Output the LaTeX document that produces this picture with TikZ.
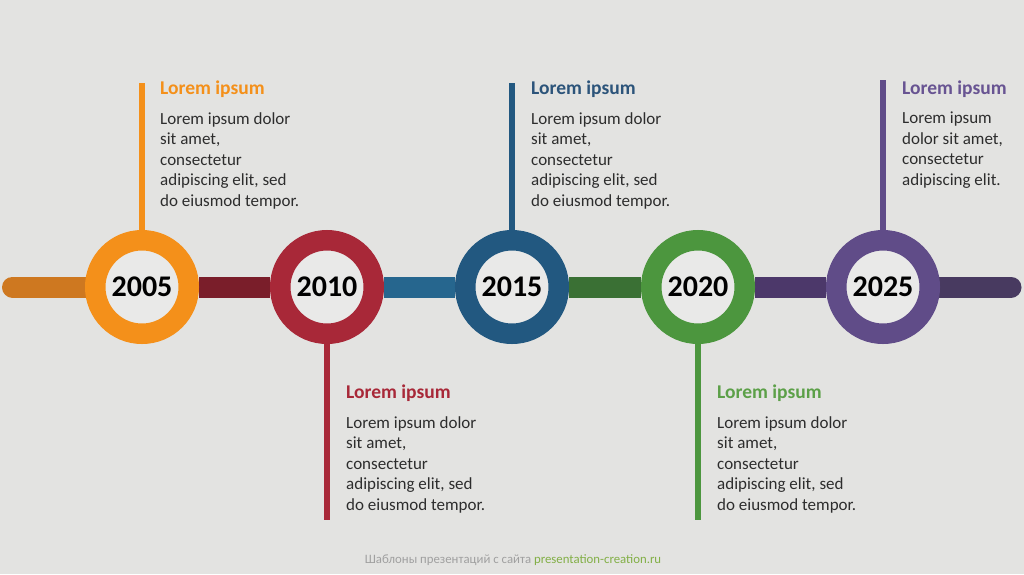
\documentclass[tikz,border=0pt]{standalone}
\usepackage{fontspec}
\setmainfont{Carlito}
\usetikzlibrary{positioning}
\pgfdeclarelayer{bg}
\pgfsetlayers{bg,main}

\definecolor{pagegray}{RGB}{227,227,225}
\definecolor{innergray}{RGB}{233,233,232}
\definecolor{bodygray}{RGB}{45,45,45}
\definecolor{footgray}{RGB}{160,160,160}
\definecolor{linkgreen}{RGB}{130,175,70}
\definecolor{ringorange}{RGB}{244,144,26}
\definecolor{ringred}{RGB}{168,40,56}
\definecolor{ringblue}{RGB}{34,88,128}
\definecolor{ringgreen}{RGB}{76,150,62}
\definecolor{ringpurple}{RGB}{96,76,136}
\definecolor{barorange}{RGB}{206,120,32}
\definecolor{barred}{RGB}{122,30,42}
\definecolor{barblue}{RGB}{38,102,142}
\definecolor{bargreen}{RGB}{58,112,52}
\definecolor{barpurple}{RGB}{76,56,106}
\definecolor{barend}{RGB}{72,58,96}
\definecolor{headblue}{RGB}{44,84,122}
\definecolor{headgreen}{RGB}{92,160,72}
\definecolor{headpurple}{RGB}{104,84,146}

\tikzset{
  ring/.style={circle,draw=#1,line width=20.5pt,fill=innergray,minimum size=93.5pt,inner sep=0pt,
    font=\fontsize{30}{30}\selectfont\bfseries},
  stem/.style={draw=#1,line width=6pt},
  bar/.style={draw=#1,line width=21pt},
  headtxt/.style={text=#1,font=\fontsize{19.5}{22}\selectfont\bfseries,anchor=base west,inner sep=0pt},
  bodytxt/.style={text=bodygray,font=\fontsize{17}{20.5}\selectfont,align=left,inner sep=0pt},
}

\begin{document}
\begin{tikzpicture}[x=1pt,y=-1pt]
\begin{pgfonlayer}{bg}
\fill[pagegray] (0,0) rectangle (1024,574);
\end{pgfonlayer}
\useasboundingbox (0,0) rectangle (1024,574);

% years
\node[ring=ringorange] (c2005) at (142,287) {2005};
\node[ring=ringred] (c2010) at (327,287) {2010};
\node[ring=ringblue] (c2015) at (512,287) {2015};
\node[ring=ringgreen] (c2020) at (698,287) {2020};
\node[ring=ringpurple] (c2025) at (883,287) {2025};

% ends of bar and stems
\coordinate (barL) at (12.5,287);
\coordinate (barR) at (1011,287);
\coordinate (t2005) at (142,83);
\coordinate (t2010) at (327,520);
\coordinate (t2015) at (512,83);
\coordinate (t2020) at (698,520);
\coordinate (t2025) at (883,80);

\begin{pgfonlayer}{bg}
\draw[bar=barorange,line cap=round] (barL) -- (c2005);
\draw[bar=barred] (c2005) -- (c2010);
\draw[bar=barblue] (c2010) -- (c2015);
\draw[bar=bargreen] (c2015) -- (c2020);
\draw[bar=barpurple] (c2020) -- (c2025);
\draw[bar=barend,line cap=round] (c2025) -- (barR);
\draw[stem=ringorange] (c2005) -- (t2005);
\draw[stem=ringred] (c2010) -- (t2010);
\draw[stem=ringblue] (c2015) -- (t2015);
\draw[stem=ringgreen] (c2020) -- (t2020);
\draw[stem=ringpurple] (c2025) -- (t2025);
\end{pgfonlayer}

% texts
\node[headtxt=ringorange] (h2005) at (160,94) {Lorem ipsum};
\node[bodytxt,below right=18pt and 0pt of h2005.base west] (b2005)
  {Lorem ipsum dolor\\sit amet,\\consectetur\\adipiscing elit, sed\\do eiusmod tempor.};
\node[headtxt=ringred] (h2010) at (346,398) {Lorem ipsum};
\node[bodytxt,below right=18pt and 0pt of h2010.base west] (b2010)
  {Lorem ipsum dolor\\sit amet,\\consectetur\\adipiscing elit, sed\\do eiusmod tempor.};
\node[headtxt=headblue] (h2015) at (531,94) {Lorem ipsum};
\node[bodytxt,below right=18pt and 0pt of h2015.base west] (b2015)
  {Lorem ipsum dolor\\sit amet,\\consectetur\\adipiscing elit, sed\\do eiusmod tempor.};
\node[headtxt=headgreen] (h2020) at (717,398) {Lorem ipsum};
\node[bodytxt,below right=18pt and 0pt of h2020.base west] (b2020)
  {Lorem ipsum dolor\\sit amet,\\consectetur\\adipiscing elit, sed\\do eiusmod tempor.};
\node[headtxt=headpurple] (h2025) at (902,94) {Lorem ipsum};
\node[bodytxt,below right=18pt and 0pt of h2025.base west] (b2025)
  {Lorem ipsum\\dolor sit amet,\\consectetur\\adipiscing elit.};

\node[text=footgray,font=\fontsize{12.8}{14}\selectfont] (foot) at (513,560)
  {Шаблоны презентаций с сайта \textcolor{linkgreen}{presentation-creation.ru}};
\end{tikzpicture}
\end{document}
